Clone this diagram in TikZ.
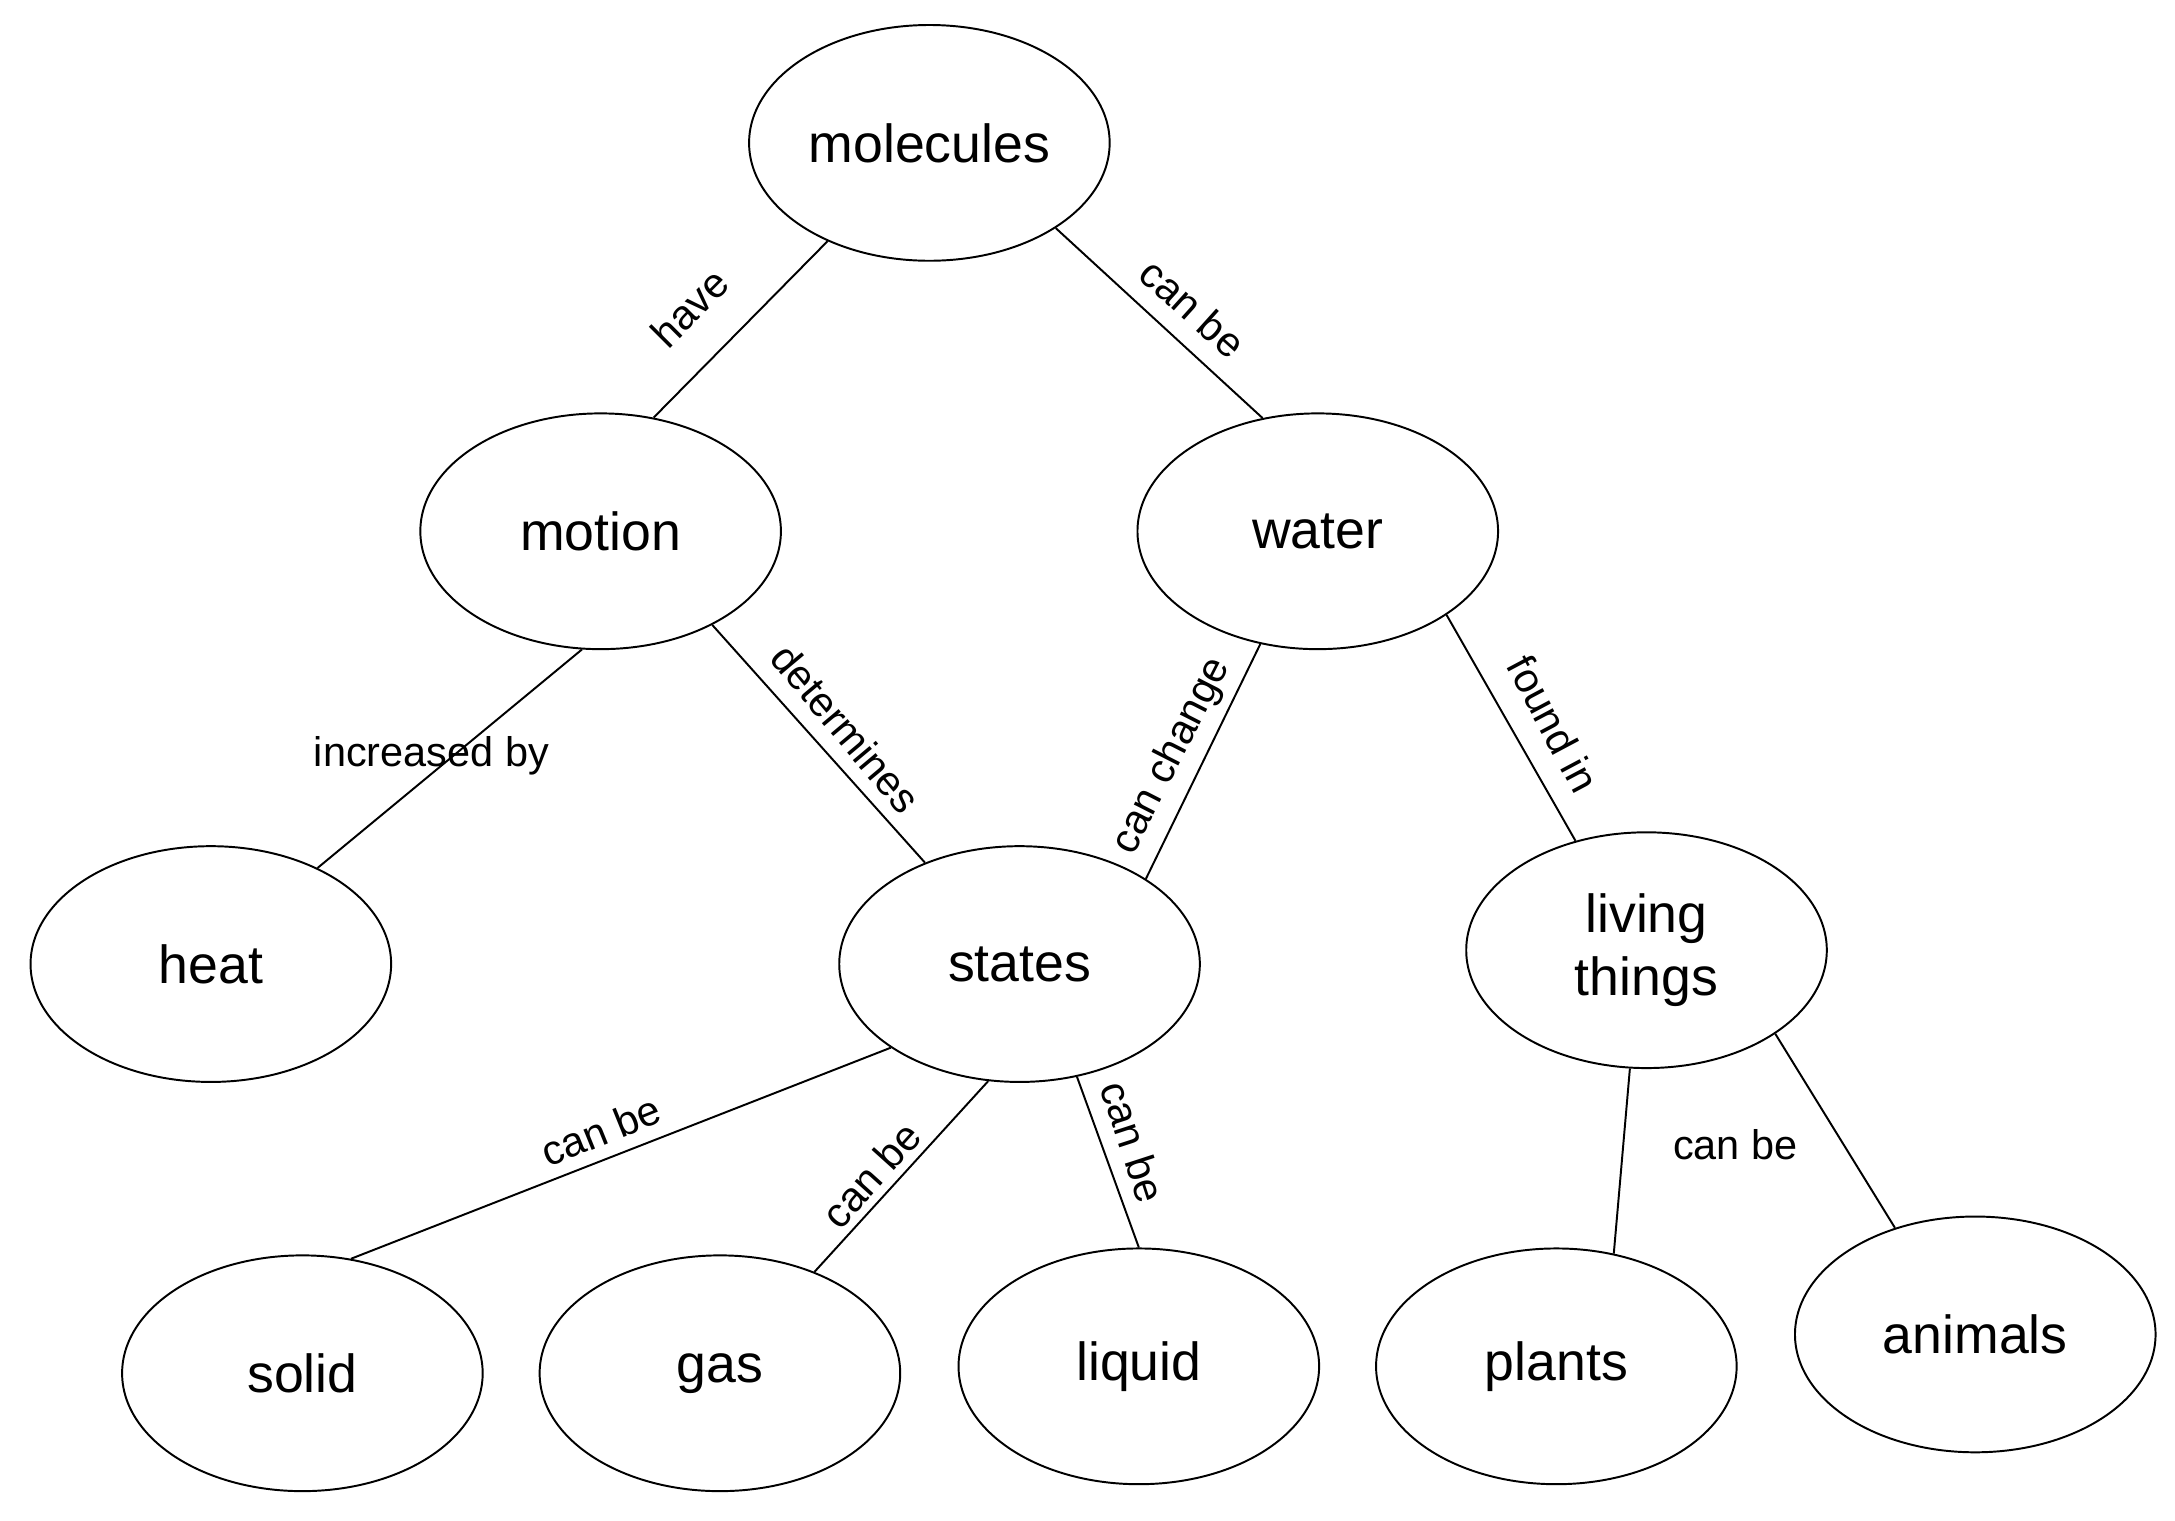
\documentclass[tikz,border=0pt]{standalone}
\usepackage{fontspec}
\setmainfont{Liberation Sans}
\usetikzlibrary{shapes.geometric}
\begin{document}
\begin{tikzpicture}[x=0.02cm,y=-0.02cm,
  ell/.style={ellipse,draw,line width=0.8pt,minimum width=5.2cm,minimum height=3.4cm,inner sep=0pt,font=\fontsize{22}{26}\selectfont,align=center},
  lab/.style={font=\fontsize{17}{20}\selectfont},
  con/.style={line width=0.8pt}]
\useasboundingbox (0,0) rectangle (1568,1096);
\node[ell] (molecules) at (670,103) {molecules};
\node[ell] (motion) at (433,383) {motion};
\node[ell] (water) at (950,383) {water};
\node[ell] (heat) at (152,695) {heat};
\node[ell] (states) at (735,695) {states};
\node[ell] (living) at (1187,685) {living\\things};
\node[ell] (solid) at (218,990) {solid};
\node[ell] (gas) at (519,990) {gas};
\node[ell] (liquid) at (821,985) {liquid};
\node[ell] (plants) at (1122,985) {plants};
\node[ell] (animals) at (1424,962) {animals};
\draw[con] (molecules.224) -- (motion.65.6);
\draw[con] (molecules.326) -- (water.116.6);
\draw[con] (motion.261.7) -- (heat.42);
\draw[con] (motion.320) -- (states.133);
\draw[con] (water.243.4) -- (states.34);
\draw[con] (water.327) -- (living.123.7);
\draw[con] (states.213.7) -- (solid.67.6);
\draw[con] (states.255.8) -- (gas.47);
\draw[con] (states.297.7) -- (liquid.90);
\draw[con] (living.262.7) -- (plants.63.7);
\draw[con] (living.327.9) -- (animals.127);
\node[lab,rotate=45] (l1) at (497,222) {have};
\node[lab,rotate=-42] (l2) at (860,222) {can be};
\node[lab] (l3) at (311,545) {increased by};
\node[lab,rotate=-50] (l4) at (610,525) {determines};
\node[lab,rotate=63] (l5) at (845,545) {can change};
\node[lab,rotate=-62] (l6) at (1120,522) {found in};
\node[lab,rotate=22] (l7) at (433,815) {can be};
\node[lab,rotate=48] (l8) at (628,847) {can be};
\node[lab,rotate=-72] (l9) at (817,823) {can be};
\node[lab] (l10) at (1251,825) {can be};
\end{tikzpicture}
\end{document}
